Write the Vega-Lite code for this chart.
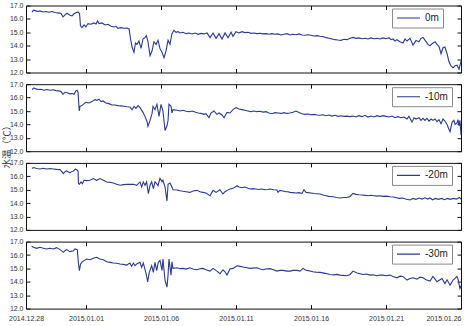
{
"$schema":"https://vega.github.io/schema/vega-lite/v6.json",
"padding":{"left":1,"top":0.5,"right":0,"bottom":0},
"config":{
 "view":{"stroke":"#111","strokeWidth":1},
 "axis":{"grid":false,"domain":false,"tickSize":-4,"tickColor":"#111","labelFont":"Liberation Sans","labelFontSize":7,"labelColor":"#333","labelFlush":false,"labelOverlap":false,"title":null},
 "legend":{"fillColor":"#ffffff","strokeColor":"#8a8a8a","padding":4,"symbolType":"stroke","symbolSize":529,"symbolStrokeWidth":1,"clipHeight":11,"labelFontSize":10,"labelFont":"Liberation Sans","labelColor":"#222","labelOffset":4,"cornerRadius":0},
 "line":{"strokeWidth":1.1}
},
"resolve":{"scale":{"color":"independent"},"legend":{"color":"independent"}},
"datasets":{
"s0":[{"d":0.4,"t":16.5},{"d":0.5,"t":16.65},{"d":0.67,"t":16.6},{"d":0.8,"t":16.55},{"d":0.93,"t":16.6},{"d":1.13,"t":16.52},{"d":1.33,"t":16.55},{"d":1.53,"t":16.5},{"d":1.73,"t":16.55},{"d":1.93,"t":16.48},{"d":2.13,"t":16.45},{"d":2.33,"t":16.4},{"d":2.47,"t":16.15},{"d":2.6,"t":16.3},{"d":2.73,"t":16.42},{"d":2.93,"t":16.28},{"d":3.07,"t":16.22},{"d":3.2,"t":16.38},{"d":3.33,"t":16.45},{"d":3.47,"t":16.52},{"d":3.57,"t":16.4},{"d":3.63,"t":15.5},{"d":3.73,"t":15.35},{"d":3.87,"t":15.55},{"d":4.0,"t":15.4},{"d":4.13,"t":15.65},{"d":4.33,"t":15.6},{"d":4.53,"t":15.7},{"d":4.67,"t":15.62},{"d":4.77,"t":15.85},{"d":4.87,"t":15.65},{"d":5.07,"t":15.7},{"d":5.27,"t":15.55},{"d":5.47,"t":15.6},{"d":5.67,"t":15.45},{"d":5.87,"t":15.4},{"d":6.0,"t":15.45},{"d":6.13,"t":15.3},{"d":6.33,"t":15.35},{"d":6.53,"t":15.3},{"d":6.73,"t":15.32},{"d":6.87,"t":15.25},{"d":6.97,"t":14.5},{"d":7.07,"t":13.9},{"d":7.2,"t":13.5},{"d":7.3,"t":14.2},{"d":7.4,"t":14.1},{"d":7.53,"t":14.35},{"d":7.67,"t":13.8},{"d":7.8,"t":14.5},{"d":7.93,"t":14.6},{"d":8.03,"t":14.75},{"d":8.13,"t":14.3},{"d":8.27,"t":13.25},{"d":8.4,"t":13.6},{"d":8.53,"t":14.3},{"d":8.67,"t":14.1},{"d":8.8,"t":14.4},{"d":8.93,"t":13.8},{"d":9.07,"t":13.5},{"d":9.2,"t":13.1},{"d":9.33,"t":13.6},{"d":9.47,"t":14.4},{"d":9.6,"t":14.1},{"d":9.73,"t":14.9},{"d":9.87,"t":15.15},{"d":10.0,"t":15.0},{"d":10.13,"t":15.05},{"d":10.27,"t":14.95},{"d":10.47,"t":15.0},{"d":10.67,"t":14.9},{"d":10.87,"t":14.95},{"d":11.07,"t":14.88},{"d":11.27,"t":14.95},{"d":11.47,"t":14.85},{"d":11.67,"t":14.92},{"d":11.87,"t":14.88},{"d":12.07,"t":14.95},{"d":12.27,"t":14.6},{"d":12.47,"t":14.95},{"d":12.67,"t":14.55},{"d":12.87,"t":14.9},{"d":13.07,"t":14.5},{"d":13.27,"t":14.95},{"d":13.47,"t":14.6},{"d":13.67,"t":15.0},{"d":13.8,"t":14.7},{"d":14.0,"t":15.05},{"d":14.2,"t":14.95},{"d":14.4,"t":15.05},{"d":14.6,"t":14.98},{"d":14.8,"t":15.0},{"d":15.0,"t":14.92},{"d":15.2,"t":14.95},{"d":15.4,"t":14.9},{"d":15.6,"t":14.93},{"d":15.8,"t":14.88},{"d":16.0,"t":14.9},{"d":16.2,"t":14.85},{"d":16.4,"t":14.9},{"d":16.6,"t":14.85},{"d":16.8,"t":14.88},{"d":17.0,"t":14.8},{"d":17.2,"t":14.85},{"d":17.4,"t":14.9},{"d":17.6,"t":14.8},{"d":17.8,"t":14.85},{"d":18.0,"t":14.82},{"d":18.2,"t":14.88},{"d":18.4,"t":14.8},{"d":18.6,"t":14.78},{"d":18.8,"t":14.82},{"d":19.0,"t":14.78},{"d":19.2,"t":14.72},{"d":19.4,"t":14.75},{"d":19.6,"t":14.7},{"d":19.8,"t":14.68},{"d":20.0,"t":14.6},{"d":20.2,"t":14.55},{"d":20.4,"t":14.5},{"d":20.6,"t":14.45},{"d":20.8,"t":14.42},{"d":21.0,"t":14.4},{"d":21.2,"t":14.48},{"d":21.4,"t":14.45},{"d":21.6,"t":14.55},{"d":21.8,"t":14.62},{"d":22.0,"t":14.55},{"d":22.2,"t":14.58},{"d":22.4,"t":14.52},{"d":22.6,"t":14.56},{"d":22.8,"t":14.5},{"d":23.0,"t":14.58},{"d":23.2,"t":14.52},{"d":23.4,"t":14.55},{"d":23.6,"t":14.5},{"d":23.8,"t":14.58},{"d":24.0,"t":14.52},{"d":24.2,"t":14.6},{"d":24.33,"t":14.45},{"d":24.47,"t":14.5},{"d":24.6,"t":14.35},{"d":24.73,"t":14.45},{"d":24.93,"t":14.3},{"d":25.13,"t":14.2},{"d":25.27,"t":14.5},{"d":25.4,"t":14.35},{"d":25.6,"t":14.55},{"d":25.8,"t":14.05},{"d":26.0,"t":14.4},{"d":26.2,"t":14.3},{"d":26.33,"t":14.55},{"d":26.47,"t":14.62},{"d":26.67,"t":14.3},{"d":26.8,"t":14.1},{"d":26.93,"t":14.0},{"d":27.07,"t":14.15},{"d":27.27,"t":14.3},{"d":27.4,"t":14.1},{"d":27.53,"t":13.95},{"d":27.67,"t":13.4},{"d":27.8,"t":13.85},{"d":27.93,"t":13.9},{"d":28.07,"t":13.4},{"d":28.2,"t":12.8},{"d":28.33,"t":12.5},{"d":28.47,"t":12.35},{"d":28.6,"t":12.5},{"d":28.73,"t":12.55},{"d":28.87,"t":12.25},{"d":29.0,"t":12.85}],
"s10":[{"d":0.4,"t":16.6},{"d":0.53,"t":16.72},{"d":0.67,"t":16.65},{"d":0.8,"t":16.6},{"d":1.0,"t":16.62},{"d":1.2,"t":16.55},{"d":1.4,"t":16.6},{"d":1.6,"t":16.55},{"d":1.8,"t":16.58},{"d":2.0,"t":16.52},{"d":2.2,"t":16.5},{"d":2.33,"t":16.45},{"d":2.47,"t":16.25},{"d":2.6,"t":16.4},{"d":2.8,"t":16.35},{"d":2.93,"t":16.28},{"d":3.07,"t":16.3},{"d":3.2,"t":16.25},{"d":3.33,"t":16.5},{"d":3.4,"t":16.55},{"d":3.47,"t":16.4},{"d":3.55,"t":15.0},{"d":3.6,"t":15.35},{"d":3.73,"t":15.4},{"d":3.87,"t":15.55},{"d":4.0,"t":15.65},{"d":4.2,"t":15.6},{"d":4.4,"t":15.7},{"d":4.6,"t":15.85},{"d":4.73,"t":15.8},{"d":4.87,"t":15.88},{"d":5.0,"t":15.7},{"d":5.13,"t":15.75},{"d":5.33,"t":15.6},{"d":5.53,"t":15.55},{"d":5.73,"t":15.45},{"d":5.93,"t":15.45},{"d":6.13,"t":15.4},{"d":6.33,"t":15.38},{"d":6.53,"t":15.35},{"d":6.73,"t":15.32},{"d":6.93,"t":15.3},{"d":7.07,"t":15.1},{"d":7.2,"t":15.35},{"d":7.33,"t":15.2},{"d":7.47,"t":15.4},{"d":7.6,"t":15.25},{"d":7.8,"t":14.9},{"d":7.93,"t":14.6},{"d":8.07,"t":14.2},{"d":8.13,"t":13.85},{"d":8.27,"t":14.3},{"d":8.4,"t":14.8},{"d":8.47,"t":15.35},{"d":8.6,"t":15.1},{"d":8.73,"t":15.5},{"d":8.87,"t":14.6},{"d":9.0,"t":15.5},{"d":9.13,"t":15.0},{"d":9.27,"t":13.55},{"d":9.4,"t":13.9},{"d":9.47,"t":14.3},{"d":9.53,"t":15.5},{"d":9.67,"t":15.35},{"d":9.73,"t":14.85},{"d":9.8,"t":15.1},{"d":10.07,"t":15.05},{"d":10.27,"t":15.0},{"d":10.47,"t":15.05},{"d":10.67,"t":14.98},{"d":10.87,"t":14.95},{"d":11.07,"t":15.0},{"d":11.27,"t":14.92},{"d":11.47,"t":14.85},{"d":11.67,"t":14.82},{"d":11.87,"t":14.75},{"d":12.0,"t":14.8},{"d":12.2,"t":14.5},{"d":12.33,"t":14.85},{"d":12.53,"t":15.0},{"d":12.73,"t":14.75},{"d":12.87,"t":14.85},{"d":13.07,"t":14.7},{"d":13.2,"t":14.5},{"d":13.4,"t":14.9},{"d":13.6,"t":14.85},{"d":13.8,"t":15.1},{"d":14.0,"t":15.25},{"d":14.2,"t":15.15},{"d":14.4,"t":15.1},{"d":14.6,"t":15.05},{"d":14.8,"t":15.0},{"d":15.0,"t":14.95},{"d":15.2,"t":15.0},{"d":15.4,"t":14.95},{"d":15.6,"t":14.98},{"d":15.8,"t":14.92},{"d":16.0,"t":14.95},{"d":16.2,"t":14.85},{"d":16.4,"t":14.8},{"d":16.6,"t":14.88},{"d":16.8,"t":14.85},{"d":17.0,"t":14.82},{"d":17.2,"t":14.88},{"d":17.4,"t":14.82},{"d":17.6,"t":14.85},{"d":17.8,"t":14.9},{"d":18.0,"t":15.0},{"d":18.2,"t":14.88},{"d":18.4,"t":14.8},{"d":18.6,"t":14.75},{"d":18.8,"t":14.78},{"d":19.0,"t":14.72},{"d":19.2,"t":14.75},{"d":19.4,"t":14.7},{"d":19.6,"t":14.68},{"d":19.8,"t":14.72},{"d":20.0,"t":14.65},{"d":20.2,"t":14.7},{"d":20.4,"t":14.62},{"d":20.6,"t":14.68},{"d":20.8,"t":14.6},{"d":21.0,"t":14.65},{"d":21.2,"t":14.6},{"d":21.4,"t":14.62},{"d":21.6,"t":14.58},{"d":21.8,"t":14.62},{"d":22.0,"t":14.55},{"d":22.2,"t":14.65},{"d":22.4,"t":14.58},{"d":22.6,"t":14.68},{"d":22.8,"t":14.55},{"d":23.0,"t":14.62},{"d":23.2,"t":14.55},{"d":23.4,"t":14.65},{"d":23.6,"t":14.58},{"d":23.8,"t":14.65},{"d":24.0,"t":14.6},{"d":24.2,"t":14.55},{"d":24.4,"t":14.62},{"d":24.6,"t":14.5},{"d":24.8,"t":14.58},{"d":25.0,"t":14.5},{"d":25.2,"t":14.55},{"d":25.4,"t":14.4},{"d":25.53,"t":14.6},{"d":25.73,"t":14.17},{"d":25.87,"t":14.5},{"d":26.0,"t":14.4},{"d":26.2,"t":14.5},{"d":26.33,"t":14.3},{"d":26.47,"t":14.45},{"d":26.6,"t":14.3},{"d":26.73,"t":14.45},{"d":26.87,"t":14.25},{"d":27.0,"t":14.4},{"d":27.13,"t":14.3},{"d":27.27,"t":14.4},{"d":27.4,"t":14.2},{"d":27.53,"t":14.35},{"d":27.67,"t":14.05},{"d":27.8,"t":14.4},{"d":27.93,"t":14.25},{"d":28.07,"t":14.0},{"d":28.13,"t":13.8},{"d":28.27,"t":13.45},{"d":28.4,"t":14.15},{"d":28.53,"t":14.3},{"d":28.6,"t":14.0},{"d":28.73,"t":14.1},{"d":28.8,"t":14.35},{"d":28.87,"t":13.9},{"d":28.93,"t":14.3},{"d":29.0,"t":13.2}],
"s20":[{"d":0.4,"t":16.58},{"d":0.49,"t":16.65},{"d":0.71,"t":16.58},{"d":0.93,"t":16.55},{"d":1.16,"t":16.6},{"d":1.38,"t":16.55},{"d":1.6,"t":16.58},{"d":1.82,"t":16.55},{"d":2.04,"t":16.52},{"d":2.27,"t":16.5},{"d":2.4,"t":16.33},{"d":2.49,"t":16.2},{"d":2.6,"t":16.35},{"d":2.71,"t":16.4},{"d":2.93,"t":16.25},{"d":3.05,"t":16.35},{"d":3.16,"t":16.4},{"d":3.3,"t":16.55},{"d":3.42,"t":16.45},{"d":3.47,"t":16.4},{"d":3.5,"t":15.45},{"d":3.56,"t":15.4},{"d":3.67,"t":15.58},{"d":3.76,"t":15.45},{"d":3.87,"t":15.7},{"d":4.04,"t":15.68},{"d":4.27,"t":15.7},{"d":4.49,"t":15.83},{"d":4.71,"t":15.7},{"d":4.93,"t":15.83},{"d":5.16,"t":15.7},{"d":5.38,"t":15.58},{"d":5.6,"t":15.55},{"d":5.82,"t":15.5},{"d":6.05,"t":15.4},{"d":6.27,"t":15.33},{"d":6.49,"t":15.38},{"d":6.71,"t":15.4},{"d":6.93,"t":15.4},{"d":7.16,"t":15.4},{"d":7.38,"t":15.33},{"d":7.6,"t":15.58},{"d":7.71,"t":15.2},{"d":7.82,"t":15.58},{"d":7.93,"t":15.33},{"d":8.04,"t":15.58},{"d":8.16,"t":14.7},{"d":8.27,"t":15.33},{"d":8.38,"t":15.58},{"d":8.49,"t":15.08},{"d":8.6,"t":15.58},{"d":8.71,"t":15.45},{"d":8.8,"t":15.3},{"d":8.93,"t":15.85},{"d":9.07,"t":15.6},{"d":9.13,"t":15.7},{"d":9.27,"t":15.2},{"d":9.4,"t":14.15},{"d":9.47,"t":15.4},{"d":9.6,"t":15.5},{"d":9.73,"t":15.2},{"d":9.8,"t":15.0},{"d":10.07,"t":14.98},{"d":10.27,"t":14.92},{"d":10.47,"t":14.88},{"d":10.67,"t":14.85},{"d":10.93,"t":14.8},{"d":11.13,"t":14.9},{"d":11.4,"t":14.95},{"d":11.6,"t":14.85},{"d":11.8,"t":14.8},{"d":12.0,"t":14.75},{"d":12.27,"t":14.55},{"d":12.47,"t":14.95},{"d":12.67,"t":14.8},{"d":12.93,"t":15.0},{"d":13.13,"t":14.68},{"d":13.27,"t":14.85},{"d":13.4,"t":14.95},{"d":13.6,"t":15.05},{"d":13.8,"t":15.1},{"d":14.07,"t":15.3},{"d":14.2,"t":15.2},{"d":14.4,"t":15.15},{"d":14.6,"t":15.2},{"d":14.8,"t":15.1},{"d":14.93,"t":15.05},{"d":15.13,"t":15.08},{"d":15.33,"t":15.05},{"d":15.53,"t":15.02},{"d":15.73,"t":15.05},{"d":15.93,"t":15.0},{"d":16.13,"t":15.02},{"d":16.27,"t":15.05},{"d":16.5,"t":15.0},{"d":16.73,"t":14.98},{"d":16.8,"t":14.8},{"d":16.93,"t":14.95},{"d":17.13,"t":14.9},{"d":17.33,"t":14.85},{"d":17.47,"t":14.85},{"d":17.6,"t":14.8},{"d":17.8,"t":14.78},{"d":18.0,"t":14.75},{"d":18.2,"t":14.78},{"d":18.4,"t":14.72},{"d":18.53,"t":15.0},{"d":18.67,"t":14.8},{"d":18.8,"t":14.78},{"d":19.0,"t":14.75},{"d":19.2,"t":14.72},{"d":19.4,"t":14.7},{"d":19.6,"t":14.68},{"d":19.8,"t":14.6},{"d":20.0,"t":14.55},{"d":20.2,"t":14.5},{"d":20.47,"t":14.47},{"d":20.7,"t":14.42},{"d":20.93,"t":14.38},{"d":21.2,"t":14.42},{"d":21.4,"t":14.42},{"d":21.6,"t":14.5},{"d":21.8,"t":14.72},{"d":22.0,"t":14.65},{"d":22.2,"t":14.62},{"d":22.4,"t":14.6},{"d":22.6,"t":14.58},{"d":22.8,"t":14.55},{"d":23.0,"t":14.58},{"d":23.2,"t":14.55},{"d":23.4,"t":14.52},{"d":23.6,"t":14.55},{"d":23.8,"t":14.5},{"d":24.0,"t":14.52},{"d":24.27,"t":14.47},{"d":24.5,"t":14.45},{"d":24.7,"t":14.4},{"d":24.9,"t":14.35},{"d":25.1,"t":14.38},{"d":25.3,"t":14.3},{"d":25.6,"t":14.23},{"d":25.8,"t":14.35},{"d":26.0,"t":14.28},{"d":26.2,"t":14.38},{"d":26.4,"t":14.3},{"d":26.6,"t":14.4},{"d":26.8,"t":14.3},{"d":26.93,"t":14.38},{"d":27.1,"t":14.25},{"d":27.3,"t":14.35},{"d":27.5,"t":14.28},{"d":27.7,"t":14.35},{"d":27.9,"t":14.25},{"d":28.1,"t":14.35},{"d":28.27,"t":14.28},{"d":28.5,"t":14.35},{"d":28.7,"t":14.3},{"d":28.9,"t":14.42},{"d":29.0,"t":14.3}],
"s30":[{"d":0.38,"t":16.65},{"d":0.49,"t":16.58},{"d":0.71,"t":16.5},{"d":0.93,"t":16.58},{"d":1.16,"t":16.5},{"d":1.38,"t":16.45},{"d":1.6,"t":16.5},{"d":1.82,"t":16.45},{"d":2.04,"t":16.55},{"d":2.27,"t":16.4},{"d":2.49,"t":16.2},{"d":2.6,"t":16.32},{"d":2.71,"t":16.4},{"d":2.93,"t":16.25},{"d":3.16,"t":16.32},{"d":3.27,"t":16.45},{"d":3.42,"t":16.4},{"d":3.49,"t":15.45},{"d":3.56,"t":14.83},{"d":3.64,"t":15.33},{"d":3.76,"t":15.5},{"d":3.87,"t":15.58},{"d":4.04,"t":15.7},{"d":4.27,"t":15.65},{"d":4.49,"t":15.75},{"d":4.71,"t":15.83},{"d":4.93,"t":15.7},{"d":5.16,"t":15.65},{"d":5.38,"t":15.5},{"d":5.6,"t":15.45},{"d":5.82,"t":15.4},{"d":6.05,"t":15.38},{"d":6.27,"t":15.33},{"d":6.49,"t":15.3},{"d":6.71,"t":15.25},{"d":6.93,"t":15.4},{"d":7.04,"t":15.15},{"d":7.16,"t":15.4},{"d":7.27,"t":15.2},{"d":7.38,"t":15.33},{"d":7.6,"t":15.45},{"d":7.71,"t":15.08},{"d":7.82,"t":15.4},{"d":7.93,"t":14.95},{"d":8.04,"t":14.45},{"d":8.11,"t":14.0},{"d":8.22,"t":14.7},{"d":8.38,"t":15.2},{"d":8.49,"t":14.7},{"d":8.6,"t":15.45},{"d":8.71,"t":14.83},{"d":8.82,"t":15.45},{"d":8.93,"t":15.6},{"d":9.07,"t":14.85},{"d":9.13,"t":15.7},{"d":9.27,"t":14.1},{"d":9.4,"t":13.6},{"d":9.47,"t":14.5},{"d":9.53,"t":15.7},{"d":9.67,"t":14.5},{"d":9.73,"t":15.5},{"d":9.8,"t":15.0},{"d":10.07,"t":15.05},{"d":10.27,"t":14.98},{"d":10.47,"t":15.0},{"d":10.67,"t":14.95},{"d":10.93,"t":15.05},{"d":11.13,"t":14.95},{"d":11.4,"t":14.9},{"d":11.6,"t":14.98},{"d":11.8,"t":15.0},{"d":12.0,"t":14.9},{"d":12.27,"t":14.8},{"d":12.47,"t":15.0},{"d":12.73,"t":14.8},{"d":12.93,"t":14.6},{"d":13.13,"t":14.9},{"d":13.27,"t":14.75},{"d":13.4,"t":14.5},{"d":13.6,"t":14.95},{"d":13.8,"t":15.0},{"d":14.07,"t":15.2},{"d":14.27,"t":15.15},{"d":14.47,"t":15.1},{"d":14.73,"t":15.05},{"d":14.93,"t":15.0},{"d":15.13,"t":15.02},{"d":15.4,"t":15.05},{"d":15.6,"t":14.95},{"d":15.8,"t":14.9},{"d":16.0,"t":14.95},{"d":16.27,"t":14.98},{"d":16.5,"t":14.9},{"d":16.73,"t":14.8},{"d":16.93,"t":14.85},{"d":17.13,"t":14.85},{"d":17.4,"t":14.8},{"d":17.6,"t":14.8},{"d":17.8,"t":14.85},{"d":18.07,"t":14.85},{"d":18.27,"t":14.8},{"d":18.47,"t":15.0},{"d":18.6,"t":14.9},{"d":18.73,"t":14.85},{"d":18.93,"t":14.8},{"d":19.13,"t":14.75},{"d":19.33,"t":14.72},{"d":19.6,"t":14.7},{"d":19.87,"t":14.65},{"d":20.07,"t":14.6},{"d":20.27,"t":14.55},{"d":20.53,"t":14.52},{"d":20.73,"t":14.55},{"d":20.93,"t":14.5},{"d":21.13,"t":14.48},{"d":21.4,"t":14.45},{"d":21.6,"t":14.55},{"d":21.8,"t":14.8},{"d":22.07,"t":14.65},{"d":22.27,"t":14.6},{"d":22.47,"t":14.55},{"d":22.7,"t":14.58},{"d":22.93,"t":14.5},{"d":23.13,"t":14.52},{"d":23.4,"t":14.45},{"d":23.6,"t":14.5},{"d":23.8,"t":14.5},{"d":24.0,"t":14.45},{"d":24.27,"t":14.5},{"d":24.47,"t":14.4},{"d":24.73,"t":14.3},{"d":24.93,"t":14.42},{"d":25.13,"t":14.4},{"d":25.27,"t":14.25},{"d":25.4,"t":14.13},{"d":25.6,"t":14.25},{"d":25.8,"t":14.3},{"d":26.07,"t":14.2},{"d":26.27,"t":14.35},{"d":26.47,"t":14.3},{"d":26.67,"t":14.15},{"d":26.93,"t":14.05},{"d":27.13,"t":14.4},{"d":27.27,"t":14.2},{"d":27.4,"t":14.0},{"d":27.6,"t":14.15},{"d":27.73,"t":14.25},{"d":27.93,"t":13.87},{"d":28.07,"t":14.15},{"d":28.27,"t":13.75},{"d":28.47,"t":14.13},{"d":28.6,"t":14.25},{"d":28.73,"t":14.4},{"d":28.8,"t":14.2},{"d":28.93,"t":13.5},{"d":29.0,"t":13.7}]
},
"vconcat":[
{"width":435,"height":67,"data":{"name":"s0"},
 "layer":[
  {"mark":{"type":"line"},
   "encoding":{
    "x":{"field":"d","type":"quantitative","scale":{"domain":[0,29],"nice":false,"zero":false},"axis":{"values":[0,4,9,14,19,24,29],"labels":false}},
    "y":{"field":"t","type":"quantitative","scale":{"domain":[12,17],"nice":false,"zero":false},"axis":{"values":[12,13,14,15,16,17],"format":".1f","labelPadding":7}},
    "color":{"datum":"0m","type":"nominal","scale":{"range":["#2b3a8c"]},"legend":{"title":null,"orient":"none","legendX":366,"legendY":3}}}},
  {"mark":{"type":"line","strokeOpacity":0},
   "encoding":{
    "x":{"field":"d","type":"quantitative","scale":{"domain":[0,29],"nice":false,"zero":false},"axis":{"orient":"top","values":[0,4,9,14,19,24,29],"labels":false}},
    "y":{"field":"t","type":"quantitative","scale":{"domain":[12,17],"nice":false,"zero":false},"axis":{"orient":"right","values":[12,13,14,15,16,17],"labels":false}}}}
 ],
 "resolve":{"axis":{"x":"independent","y":"independent"}}},
{"width":435,"height":67,"data":{"name":"s10"},
 "layer":[
  {"mark":{"type":"line"},
   "encoding":{
    "x":{"field":"d","type":"quantitative","scale":{"domain":[0,29],"nice":false,"zero":false},"axis":{"values":[0,4,9,14,19,24,29],"labels":false}},
    "y":{"field":"t","type":"quantitative","scale":{"domain":[12,17],"nice":false,"zero":false},"axis":{"values":[12,13,14,15,16,17],"format":".1f","labelPadding":7,"title":"水温（℃）","titleFont":"Noto Sans CJK SC","titleFontSize":9.5,"titleFontWeight":"normal","titleColor":"#333","titleAngle":-90,"titleX":-19.5,"titleY":60,"titleAlign":"center","titleBaseline":"middle","titleLimit":200}},
    "color":{"datum":"-10m","type":"nominal","scale":{"range":["#2b3a8c"]},"legend":{"title":null,"orient":"none","legendX":366,"legendY":3}}}},
  {"mark":{"type":"line","strokeOpacity":0},
   "encoding":{
    "x":{"field":"d","type":"quantitative","scale":{"domain":[0,29],"nice":false,"zero":false},"axis":{"orient":"top","values":[0,4,9,14,19,24,29],"labels":false}},
    "y":{"field":"t","type":"quantitative","scale":{"domain":[12,17],"nice":false,"zero":false},"axis":{"orient":"right","values":[12,13,14,15,16,17],"labels":false}}}}
 ],
 "resolve":{"axis":{"x":"independent","y":"independent"}}},
{"width":435,"height":67,"data":{"name":"s20"},
 "layer":[
  {"mark":{"type":"line"},
   "encoding":{
    "x":{"field":"d","type":"quantitative","scale":{"domain":[0,29],"nice":false,"zero":false},"axis":{"values":[0,4,9,14,19,24,29],"labels":false}},
    "y":{"field":"t","type":"quantitative","scale":{"domain":[12,17],"nice":false,"zero":false},"axis":{"values":[12,13,14,15,16,17],"format":".1f","labelPadding":7}},
    "color":{"datum":"-20m","type":"nominal","scale":{"range":["#2b3a8c"]},"legend":{"title":null,"orient":"none","legendX":366,"legendY":3}}}},
  {"mark":{"type":"line","strokeOpacity":0},
   "encoding":{
    "x":{"field":"d","type":"quantitative","scale":{"domain":[0,29],"nice":false,"zero":false},"axis":{"orient":"top","values":[0,4,9,14,19,24,29],"labels":false}},
    "y":{"field":"t","type":"quantitative","scale":{"domain":[12,17],"nice":false,"zero":false},"axis":{"orient":"right","values":[12,13,14,15,16,17],"labels":false}}}}
 ],
 "resolve":{"axis":{"x":"independent","y":"independent"}}},
{"width":435,"height":67,"data":{"name":"s30"},
 "layer":[
  {"mark":{"type":"line"},
   "encoding":{
    "x":{"field":"d","type":"quantitative","scale":{"domain":[0,29],"nice":false,"zero":false},"axis":{"values":[0,4,9,14,19,24,29],"labelPadding":10,"labelAlign":{"condition":{"test":"datum.value >= 29","value":"right"},"value":"center"},"labelExpr":"timeFormat(datetime(2014,11,28+datum.value),'%Y.%m.%d')"}},
    "y":{"field":"t","type":"quantitative","scale":{"domain":[12,17],"nice":false,"zero":false},"axis":{"values":[12,13,14,15,16,17],"format":".1f","labelPadding":7}},
    "color":{"datum":"-30m","type":"nominal","scale":{"range":["#2b3a8c"]},"legend":{"title":null,"orient":"none","legendX":366,"legendY":3}}}},
  {"mark":{"type":"line","strokeOpacity":0},
   "encoding":{
    "x":{"field":"d","type":"quantitative","scale":{"domain":[0,29],"nice":false,"zero":false},"axis":{"orient":"top","values":[0,4,9,14,19,24,29],"labels":false}},
    "y":{"field":"t","type":"quantitative","scale":{"domain":[12,17],"nice":false,"zero":false},"axis":{"orient":"right","values":[12,13,14,15,16,17],"labels":false}}}}
 ],
 "resolve":{"axis":{"x":"independent","y":"independent"}}}
],
"spacing":11.7,
"bounds":"flush"
}
